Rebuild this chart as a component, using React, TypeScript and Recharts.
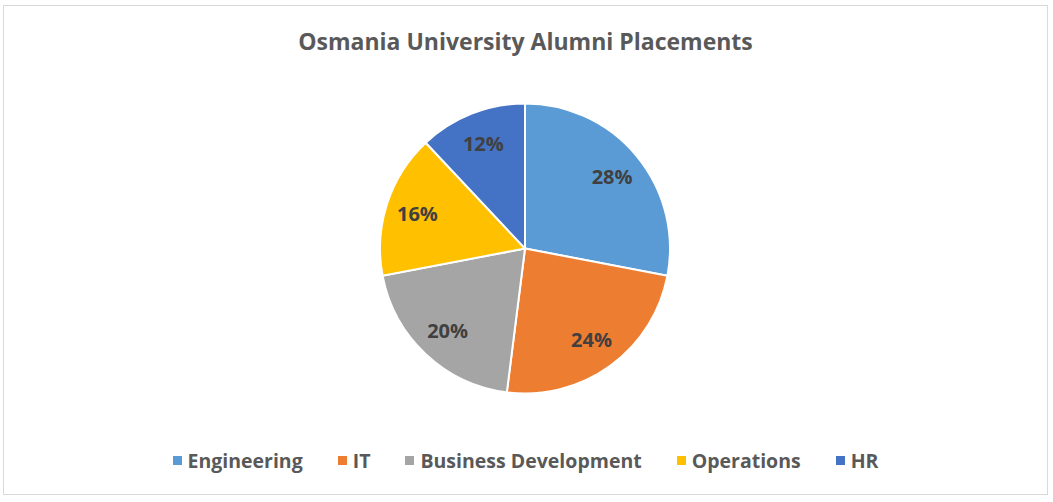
import React from 'react';
import { PieChart, Pie, Cell, Legend } from 'recharts';

const categories = ['Engineering', 'IT', 'Business Development', 'Operations', 'HR'];
const shares = [28, 24, 20, 16, 12];
const colors = ['#5B9BD5', '#ED7D31', '#A5A5A5', '#FFC000', '#4472C4'];

const data = categories.map((name, i) => ({ name, value: shares[i] }));

const FONT = '"Open Sans", Lato, sans-serif';
const RAD = Math.PI / 180;

const renderLabel = (props: any) => {
  const { cx, cy, midAngle, outerRadius, value } = props;
  const r = outerRadius * 0.78;
  const x = cx + r * Math.cos(-midAngle * RAD);
  const y = cy + r * Math.sin(-midAngle * RAD);
  return (
    <text
      x={x}
      y={y}
      textAnchor="middle"
      dominantBaseline="central"
      fill="#404040"
      fontSize={20}
      fontWeight={700}
      fontFamily={FONT}
    >
      {`${value}%`}
    </text>
  );
};

const renderLegend = () => (
  <div
    style={{
      display: 'flex',
      justifyContent: 'center',
      gap: 35,
      fontFamily: FONT,
      fontSize: 19.5,
      fontWeight: 700,
      color: '#595959',
    }}
  >
    {categories.map((c, i) => (
      <div key={c} style={{ display: 'flex', alignItems: 'center' }}>
        <span style={{ width: 9, height: 9, background: colors[i], marginRight: 6, display: 'inline-block' }} />
        <span>{c}</span>
      </div>
    ))}
  </div>
);

const App: React.FC = () => (
  <div
    style={{
      position: 'absolute',
      left: 3,
      top: 5,
      width: 1043,
      height: 488,
      border: '1px solid #d9d9d9',
      background: '#fff',
    }}
  >
    <div
      style={{
        position: 'absolute',
        top: 19,
        width: '100%',
        textAlign: 'center',
        fontFamily: FONT,
        fontSize: 23,
        fontWeight: 700,
        color: '#595959',
      }}
    >
      Osmania University Alumni Placements
    </div>
    <PieChart width={1043} height={488}>
      <Pie
        data={data}
        dataKey="value"
        nameKey="name"
        cx={516}
        cy={237.5}
        outerRadius={145}
        startAngle={90}
        endAngle={-270}
        stroke="#fff"
        strokeWidth={2}
        label={renderLabel}
        labelLine={false}
        isAnimationActive={false}
      >
        {data.map((d, i) => (
          <Cell key={d.name} fill={colors[i]} />
        ))}
      </Pie>
      <Legend verticalAlign="bottom" content={renderLegend} wrapperStyle={{ bottom: 20 }} />
    </PieChart>
  </div>
);

export default App;
